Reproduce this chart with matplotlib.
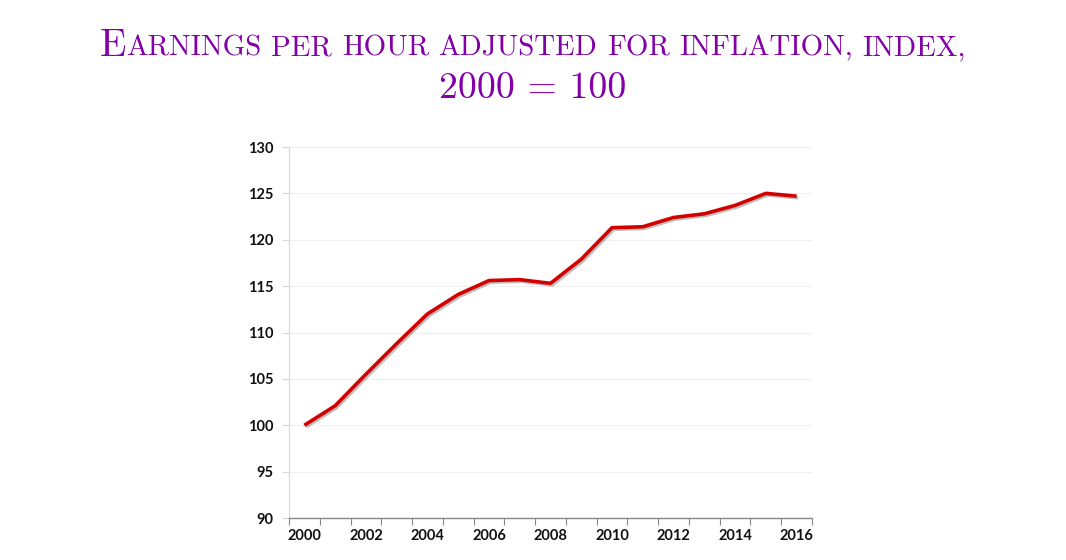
import matplotlib
matplotlib.use('Agg')
import matplotlib.pyplot as plt
import matplotlib.patheffects as pe
from matplotlib.offsetbox import TextArea, HPacker, AnchoredOffsetbox

# index values, 2000 = 100
years = list(range(2000, 2017))
earnings = [100.0, 102.1, 105.5, 108.8, 112.0, 114.1, 115.6, 115.7, 115.3,
            117.9, 121.3, 121.4, 122.4, 122.8, 123.7, 125.0, 124.7]
title_line1 = "Earnings per hour adjusted for inflation, index,"
title_line2 = "2000 = 100"

purple = '#8300A8'
red = '#D40000'

fig = plt.figure(figsize=(10.66, 5.6), dpi=100)
ax = fig.add_axes([0.2711, 0.075, 0.4906, 0.6625])

x = list(range(len(years)))
ax.plot(x, earnings, color=red, lw=2.6, solid_capstyle='butt',
        path_effects=[pe.SimpleLineShadow(offset=(1.2, -1.2), alpha=0.25),
                      pe.Normal()])

ax.set_xlim(-0.5, len(years) - 0.5)
ax.set_ylim(90, 130)
ax.set_yticks(range(90, 131, 5))
ax.set_xticks(x[::2])
ax.set_xticklabels([str(y) for y in years[::2]])
ax.set_xticks([i - 0.5 for i in range(len(years) + 1)], minor=True)
ax.tick_params(axis='x', which='major', length=0, pad=8)
ax.tick_params(axis='x', which='minor', length=5, color='#888888', width=0.8)
ax.tick_params(axis='y', length=5, color='#D9D9D9', width=0.8, pad=6)
for lab in ax.get_xticklabels() + ax.get_yticklabels():
    lab.set_fontfamily('Lato')
    lab.set_fontsize(10.5)
    lab.set_fontweight('bold')
    lab.set_color('#111111')

ax.grid(axis='y', color='#F0F0F0', lw=0.8)
ax.set_axisbelow(True)
for s in ['top', 'right']:
    ax.spines[s].set_visible(False)
ax.spines['left'].set_color('#D9D9D9')
ax.spines['bottom'].set_color('#888888')
ax.spines['bottom'].set_linewidth(1.0)

# title in small caps, built from pieces of two sizes
big, small = 28, 20.8
pieces = []
for word in title_line1.split(' '):
    if pieces:
        pieces.append(TextArea(' ', textprops=dict(fontsize=small, family='cmr10', color=purple)))
    first = word[0]
    rest = word[1:]
    if first.isupper():
        pieces.append(TextArea(first, textprops=dict(fontsize=big, family='cmr10', color=purple)))
    else:
        rest = word
    if rest:
        pieces.append(TextArea(rest.upper(), textprops=dict(fontsize=small, family='cmr10', color=purple)))
box = HPacker(children=pieces, align='baseline', pad=0, sep=0)
anch = AnchoredOffsetbox(loc='center', child=box, pad=0, frameon=False,
                         bbox_to_anchor=(0.5, 0.918), bbox_transform=fig.transFigure)
fig.add_artist(anch)
fig.text(0.5, 0.842, title_line2, ha='center', va='center', fontsize=27.2,
         family='cmr10', color=purple)

fig.savefig('out.png', dpi=100)
